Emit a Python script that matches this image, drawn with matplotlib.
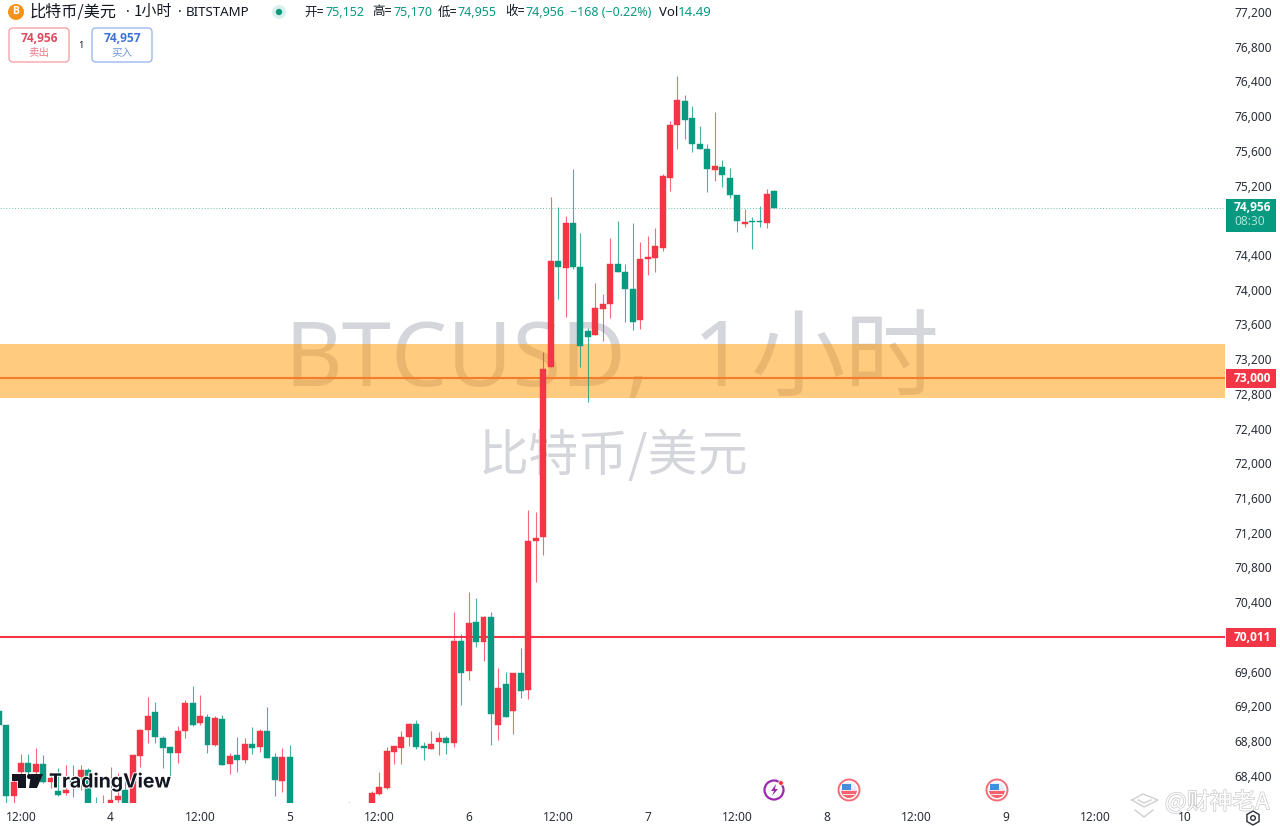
import matplotlib
matplotlib.use("Agg")
import matplotlib.pyplot as plt
import matplotlib.patheffects as pe
from matplotlib.transforms import ScaledTranslation
from matplotlib.patches import Rectangle, Circle, FancyBboxPatch, Polygon, RegularPolygon, Wedge

plt.rcParams['font.family'] = ['Noto Sans', 'Noto Sans CJK SC', 'DejaVu Sans']
CJK = ['Noto Sans CJK SC', 'DejaVu Sans']
BOLD = ['Open Sans', 'DejaVu Sans']

# hours counted from the 12:00 bar on day 3
hours = list(range(-3, 37)) + [44] + list(range(47, 102))
opens = [69168,69003,68189,68465,68569,68465,68553,68350,68242,68215,68369,68407,68484,68000,67900,68050,
         68139,68254,68050,68645,68945,69149,68849,68745,68676,68937,69260,69022,69091,68768,69072,68549,
         68653,68599,68784,68745,68937,68630,68361,68630,
         67950,
         68107,68203,68276,68695,68741,68868,69014,68756,68730,68806,68852,68795,69970,69628,70193,69962,
         70250,69002,69478,69167,69597,69405,71122,71168,73130,74351,74267,74786,74279,73541,73495,73795,
         73852,74313,74221,74025,73668,74371,74382,74498,75304,75915,76191,75995,75696,75638,75396,75431,
         75304,75108,74774,74809,74809,74786,75152]
closes = [69003,68189,68350,68569,68465,68553,68350,68388,68196,68254,68331,68484,68100,67950,67980,68139,
          68189,68050,68657,68945,69106,68861,68741,68676,68937,69252,69003,69106,68772,69079,68542,68645,
          68603,68784,68741,68937,68626,68365,68630,68100,
          67900,
          68223,68284,68703,68760,68868,69014,68753,68733,68783,68852,68795,69970,69605,70181,69962,70243,
          69125,69432,69091,69597,69390,71122,71157,73104,74351,74275,74786,74279,73369,73472,73806,73852,
          74313,74221,74025,73645,74371,74394,74521,75327,75915,76203,75972,75696,75638,75408,75442,75339,
          75108,74809,74797,74797,74797,75120,74956]
highs = [69200,69003,68388,68669,68669,68734,68657,68465,68503,68542,68542,68542,68503,68177,68196,68515,
         68446,68369,68657,68960,69321,69264,68876,68753,68995,69291,69456,69348,69129,69106,69118,68684,
         68861,68849,68983,68960,69206,68676,68734,68772,
         68119,
         68242,68465,68753,68760,68937,69021,69060,68810,68937,68922,68879,70308,70051,70538,70469,70258,
         70300,69663,69617,69597,69885,71479,71456,73300,75085,74973,74866,75408,74670,73576,74094,73968,
         74613,74809,74313,74786,74567,74636,74728,75350,75961,76479,76260,76133,75903,75696,76064,75511,
         75419,75108,74947,74855,74981,75177,75170]
lows = [68990,68100,68093,68440,68400,68400,68330,68273,68190,68200,68177,68254,68090,67900,67850,68000,
        68050,68000,68000,68515,68791,68791,68503,68407,68561,68849,68991,69003,68684,68761,68542,68434,
        68465,68569,68669,68695,68626,68189,68235,68090,
        67850,
        68100,68196,68269,68553,68553,68760,68730,68599,68730,68660,68664,68753,69229,69521,69897,69743,
        68772,68829,69091,68895,69309,69298,70650,70961,73127,73910,73703,74256,73127,72724,73495,73426,
        73691,74221,73645,73553,73564,74187,74221,74463,75154,75638,75753,75604,75638,75143,75269,75200,
        75074,74682,74740,74486,74740,74728,74955]

price_ticks = [77200,76800,76400,76000,75600,75200,74400,74000,73600,73200,72800,72400,72000,71600,71200,
               70800,70400,69600,69200,68800,68400]
time_ticks = [0,12,24,36,48,60,72,84,96,108,120,132,144,156]
time_labels = ['12:00','4','12:00','5','12:00','6','12:00','7','12:00','8','12:00','9','12:00','10']

zone_low, zone_high = 72770, 73392
level_mid = 73000
level_red = 70011
last_close = 74956

UP, DOWN = '#f23645', '#089981'
W, H = 1280, 826
PX_LEFT, PX_RIGHT, PX_BOTTOM = 0, 1225, 803
WM = '#d5d6db'

fig = plt.figure(figsize=(12.8, 8.26), dpi=100, facecolor='white')

# under layer: big symbol watermark
under = fig.add_axes([0, 0, 1, 1], zorder=0)
under.set_xlim(0, W); under.set_ylim(H, 0); under.axis('off')
under.text(284, 386, 'BTCUSD,', fontsize=64, color=WM, ha='left', va='baseline')
under.text(693, 386, '1', fontsize=66, color=WM, ha='left', va='baseline')
under.text(845, 388, '小时', fontsize=68, color=WM, ha='center', va='baseline', family=CJK)
under.text(613, 457, '比特币/美元', fontsize=36, color=WM, ha='center', va='center', family=CJK)

# price axes
ax = fig.add_axes([PX_LEFT / W, (H - PX_BOTTOM) / H, (PX_RIGHT - PX_LEFT) / W, PX_BOTTOM / H], zorder=1)
ax.patch.set_alpha(0)
ax.set_xlim(-2.815, 161.4)
ax.set_ylim(68104, 77355)
for s in ax.spines.values():
    s.set_visible(False)

ax.axhspan(zone_low, zone_high, color='#ff9800', alpha=0.5, lw=0, zorder=1)
ax.axhline(level_mid, color='#f57c2a', lw=1.5, zorder=2)
ax.axhline(level_red, color='#f23645', lw=1.5, zorder=2)
ax.axhline(last_close, color='#089981', lw=0.7, ls=(0, (1, 2)), alpha=0.6, zorder=2)

cols = [UP if c >= o else DOWN for o, c in zip(opens, closes)]
ax.vlines(hours, lows, highs, colors=cols, lw=0.8, alpha=0.75, zorder=3)
ax.bar(hours, [abs(c - o) for o, c in zip(opens, closes)], bottom=[min(o, c) for o, c in zip(opens, closes)],
       width=0.8, color=cols, lw=0.3, edgecolor=cols, zorder=4)

ax.yaxis.tick_right()
ax.set_yticks(price_ticks)
ax.set_yticklabels([f'{p:,}' for p in price_ticks], fontsize=8.6, color='#2a2e39', ha='right')
ax.tick_params(axis='y', length=0, pad=34)
lift = ScaledTranslation(0, 1.5 / 100, fig.dpi_scale_trans)
for lab in ax.get_yticklabels():
    lab.set_transform(lab.get_transform() + lift)
ax.set_xticks(time_ticks)
ax.set_xticklabels(time_labels, fontsize=8.6, color='#2a2e39')
ax.tick_params(axis='x', length=0, pad=6)

# top layer: overlays in pixel coordinates
ov = fig.add_axes([0, 0, 1, 1], zorder=2)
ov.set_xlim(0, W); ov.set_ylim(H, 0); ov.axis('off'); ov.patch.set_alpha(0)

def py(p):
    y0, y1 = ax.get_ylim()
    return PX_BOTTOM * (y1 - p) / (y1 - y0)

# price tags
ov.add_patch(Rectangle((1226, py(last_close) - 9), 50, 33, color='#089981', lw=0))
ov.text(1271, py(last_close) - 1, f'{last_close:,}', fontsize=8.6, weight='bold', color='white', ha='right',
        va='center', family=BOLD)
ov.text(1265, py(last_close) + 13.5, '08:30', fontsize=8.6, color='#a6e3d5', ha='right', va='center')
for lvl in (level_mid, level_red):
    ov.add_patch(Rectangle((1226, py(lvl) - 9.5), 50, 19, color='#f23645', lw=0))
    ov.text(1271, py(lvl), f'{lvl:,}', fontsize=8.6, weight='bold', color='white', ha='right', va='center', family=BOLD)

# header
ink = '#131722'
ov.add_patch(Circle((16, 12), 8, color='#f7931a', lw=0))
ov.text(16, 12, 'B', fontsize=7.5, weight='bold', color='white', ha='center', va='center', family=BOLD)
ov.text(30, 12, '比特币/美元', fontsize=11.6, color=ink, ha='left', va='center', family=CJK)
ov.text(128, 12, '·', fontsize=10, color=ink, ha='center', va='center')
ov.text(134, 12, '1小时', fontsize=10.8, color=ink, ha='left', va='center', family=CJK)
ov.text(179.5, 12, '·', fontsize=10, color=ink, ha='center', va='center')
ov.text(186, 12, 'BITSTAMP', fontsize=9.6, color=ink, ha='left', va='center')
ov.add_patch(Circle((279, 12), 7, color='#daf0ec', lw=0))
ov.add_patch(Circle((279, 12), 3.2, color='#089981', lw=0))
G = '#089981'
for x, s, c in [(304, '开=', ink), (326, '75,152', G), (372, '高=', ink), (393, '75,170', G),
                (438, '低=', ink), (458, '74,955', G), (505, '收=', ink), (525, '74,956', G),
                (570, '−168 (−0.22%)', G)]:
    ov.text(x, 12, s, fontsize=9, color=c, ha='left', va='center', family=['Noto Sans', 'Noto Sans CJK SC'])
ov.text(659, 12, 'Vol', fontsize=9.5, color=ink, ha='left', va='center')
ov.text(678, 12, '14.49', fontsize=9.5, color=G, ha='left', va='center')

# buy / sell
ov.add_patch(FancyBboxPatch((9, 28), 60, 34, boxstyle='round,pad=0,rounding_size=4', fc='white', ec='#f5a3ab', lw=1))
ov.add_patch(FancyBboxPatch((92, 28), 60, 34, boxstyle='round,pad=0,rounding_size=4', fc='white', ec='#9db8ee', lw=1))
ov.text(39, 39, '74,956', fontsize=8.6, weight='bold', color='#e0485c', ha='center', va='center', family=BOLD)
ov.text(39, 53, '卖出', fontsize=7.6, color='#ee7f8c', ha='center', va='center', family=CJK)
ov.text(122, 39, '74,957', fontsize=8.6, weight='bold', color='#3f72d8', ha='center', va='center', family=BOLD)
ov.text(122, 53, '买入', fontsize=7.6, color='#6f95e4', ha='center', va='center', family=CJK)
ov.text(80.5, 45, '1', fontsize=6.5, color=ink, ha='center', va='center')

# TradingView logo
halo = [pe.withStroke(linewidth=1.5, foreground='white')]
ov.add_patch(Polygon([(12, 774), (26, 774), (26, 788), (18, 788), (18, 781), (12, 781)], fc=ink, lw=0))
ov.add_patch(Circle((29.5, 776.5), 2.6, fc=ink, lw=0))
ov.add_patch(Polygon([(31, 774), (43, 774), (37, 788), (29, 788)], fc=ink, lw=0))
ov.text(49, 782, 'TradingView', fontsize=14, weight='bold', color=ink, ha='left', va='center',
        family='Inter', path_effects=halo)

# event markers
ov.add_patch(Circle((774, 790), 9.5, fc='white', ec='#9c27b0', lw=1.6))
ov.add_patch(Polygon([(776, 784), (771, 791), (774, 791), (772, 796), (778, 789), (775, 789)], fc='#9c27b0', lw=0))
ov.add_patch(Circle((781, 783), 2.4, fc='#f23645', ec='white', lw=0.5))
for cx in (849, 997):
    ov.add_patch(Circle((cx, 790), 10.5, fc='white', ec='#f26d78', lw=1.4))
    ov.add_patch(Wedge((cx, 790), 8, 180, 360, fc='#e8f0f8', lw=0))
    ov.add_patch(Wedge((cx, 790), 8, 0, 180, fc='#f6636f', lw=0))
    ov.add_patch(Rectangle((cx - 8, 788.5), 16, 2.5, fc='#fbe3e5', lw=0))
    ov.add_patch(Rectangle((cx - 7.5, 783.5), 9, 6.5, fc='#3f8fe0', lw=0))
    ov.add_patch(Rectangle((cx - 6, 793.5), 12, 1.6, fc='#fbe3e5', lw=0))

# settings glyph and repost mark
ov.add_patch(RegularPolygon((1253, 818), 6, radius=7, fc='white', ec='#2a2e39', lw=1))
ov.add_patch(Circle((1253, 818), 2.3, fc='white', ec='#2a2e39', lw=1))
mark = [pe.withStroke(linewidth=1.0, foreground='#c9c9c9')]
ov.text(1217, 802, '@财神老A', fontsize=16.5, color='white', ha='center', va='center', family=CJK, path_effects=mark)
ov.plot([1132, 1143, 1158, 1144, 1132], [800, 794, 800, 807, 800], color='#d0d0d0', lw=1)
ov.plot([1138, 1144, 1151], [800, 803, 800], color='#d0d0d0', lw=1)
ov.plot([1135, 1144, 1153], [810, 817, 810], color='#d0d0d0', lw=1)

fig.savefig('out.png', dpi=100)
